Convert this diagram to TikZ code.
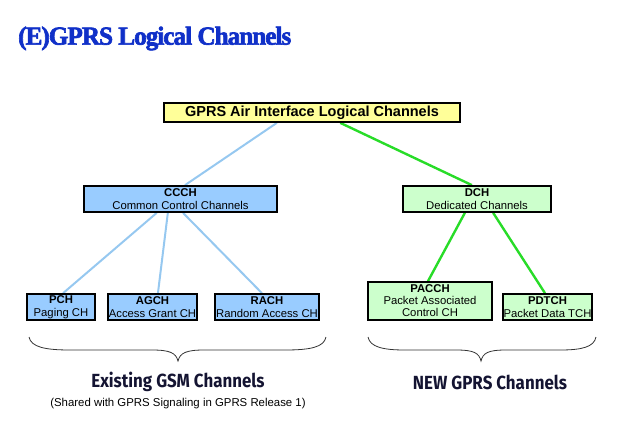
\documentclass[tikz,border=0pt]{standalone}
\usepackage{fontspec}
\setmainfont{Liberation Sans}
\newfontfamily\titlefont[FakeBold=2.5,LetterSpace=-4]{Liberation Serif}
\newfontfamily\labfont{Fira Sans}
\usetikzlibrary{calc,backgrounds}
\definecolor{titleblue}{RGB}{16,48,200}
\definecolor{boxyellow}{RGB}{255,255,153}
\definecolor{boxblue}{RGB}{153,204,255}
\definecolor{boxgreen}{RGB}{204,255,204}
\definecolor{lineblue}{RGB}{150,200,240}
\definecolor{linegreen}{RGB}{40,220,40}
\definecolor{navy}{RGB}{20,20,50}
\tikzset{
  chbox/.style={draw=black, line width=1.7pt, inner sep=0pt, align=center,
    font=\fontsize{11.3}{12.5}\selectfont},
  bluebox/.style={chbox, fill=boxblue},
  greenbox/.style={chbox, fill=boxgreen},
  blueline/.style={draw=lineblue, line width=2pt},
  greenline/.style={draw=linegreen, line width=2.4pt},
  bracestyle/.style={draw=black!80, line width=0.8pt},
  grouplabel/.style={text=navy, font=\labfont\bfseries\fontsize{19}{21}\selectfont}
}
\newcommand{\sfr}[2]{($(#1.south west)!#2!(#1.south east)$)}
\newcommand{\nfr}[2]{($(#1.north west)!#2!(#1.north east)$)}
\begin{document}
\begin{tikzpicture}[x=1pt,y=-1pt]
\useasboundingbox (0,0) rectangle (638,442);
\node[anchor=west, text=titleblue, inner sep=0pt] (title) at (18,38.5)
  {\scalebox{0.97}[1]{\titlefont\bfseries\fontsize{26}{28}\selectfont (E)GPRS Logical Channels}};

\node[chbox, fill=boxyellow, minimum width=296pt, minimum height=19pt,
  font=\bfseries\fontsize{14.5}{15}\selectfont] (top) at (312,112.5) {GPRS Air Interface Logical Channels};

\node[bluebox, minimum width=193pt, minimum height=26pt] (ccch) at (180.5,199) {\textbf{CCCH}\\Common Control Channels};
\node[greenbox, minimum width=148pt, minimum height=26pt] (dch) at (477,199) {\textbf{DCH}\\Dedicated Channels};

\node[bluebox, minimum width=68pt, minimum height=26pt] (pch) at (61,307) {\textbf{PCH}\\Paging CH};
\node[bluebox, minimum width=89pt, minimum height=26pt] (agch) at (152.5,307) {\textbf{AGCH}\\Access Grant CH};
\node[bluebox, minimum width=104pt, minimum height=26pt] (rach) at (267,307) {\textbf{RACH}\\Random Access CH};
\node[greenbox, minimum width=124pt, minimum height=38pt, font=\fontsize{11.3}{12}\selectfont] (pacch) at (430,301) {\textbf{PACCH}\\Packet Associated\\Control CH};
\node[greenbox, minimum width=89pt, minimum height=26pt] (pdtch) at (547.5,307) {\textbf{PDTCH}\\Packet Data TCH};

\begin{scope}[on background layer]
  \draw[blueline] \sfr{top}{0.382} -- \nfr{ccch}{0.523};
  \draw[greenline] \sfr{top}{0.595} -- \nfr{dch}{0.466};
  \draw[blueline] \sfr{ccch}{0.378} -- \nfr{pch}{0.53};
  \draw[blueline] \sfr{ccch}{0.435} -- \nfr{agch}{0.56};
  \draw[blueline] \sfr{ccch}{0.513} -- \nfr{rach}{0.452};
  \draw[greenline] \sfr{dch}{0.419} -- \nfr{pacch}{0.484};
  \draw[greenline] \sfr{dch}{0.608} -- \nfr{pdtch}{0.472};
\end{scope}

\draw[bracestyle] (29,337) .. controls (31,347) and (45,350) .. (70,350) -- (152,350)
  .. controls (170,350) and (176,353) .. (178,361)
  .. controls (180,353) and (186,350) .. (204,350) -- (285,350)
  .. controls (311,350) and (324,347) .. (326,337);
\draw[bracestyle] (368,337) .. controls (370,347) and (383,350) .. (405,350) -- (456,350)
  .. controls (474,350) and (479,353) .. (481,361)
  .. controls (483,353) and (488,350) .. (506,350) -- (560,350)
  .. controls (582,350) and (594,347) .. (596,337);

\node[grouplabel] (exist) at (178,382) {\scalebox{0.89}[1]{Existing GSM Channels}};
\node[grouplabel] (newg) at (490,382) {\scalebox{0.89}[1]{NEW GPRS Channels}};
\node[font=\fontsize{11.4}{13}\selectfont] (shared) at (178,404) {(Shared with GPRS Signaling in GPRS Release 1)};
\end{tikzpicture}
\end{document}
